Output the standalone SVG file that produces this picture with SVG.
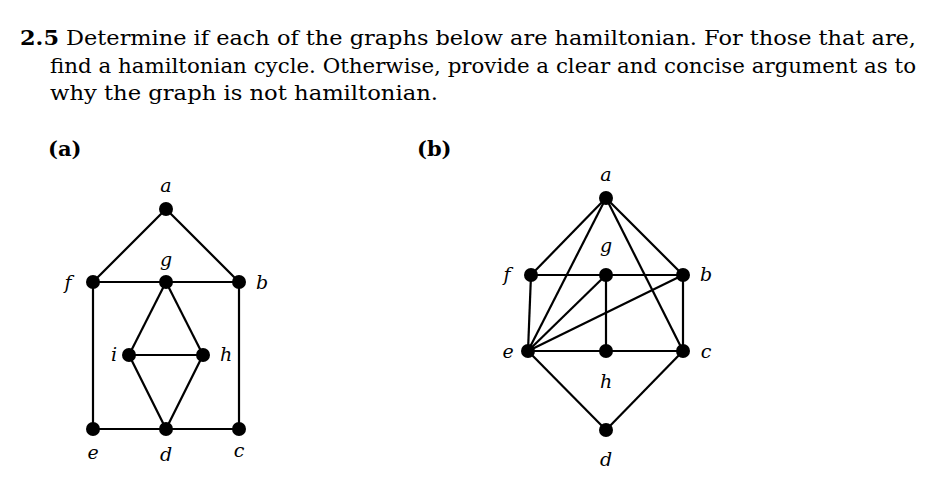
<svg xmlns="http://www.w3.org/2000/svg" width="936" height="492" viewBox="0 0 936 492">
<style>
.t{font-family:"DejaVu Serif",serif;font-size:21px;fill:#000}
.b{font-weight:bold}
.l{font-family:"DejaVu Serif",serif;font-size:19px;font-style:italic;text-anchor:middle;fill:#000}
line{stroke:#000;stroke-width:2.2}
circle{fill:#000}
</style>
<rect width="936" height="492" fill="#fff"/>
<text class="t" x="20" y="45" textLength="896" lengthAdjust="spacingAndGlyphs"><tspan class="b">2.5</tspan> Determine if each of the graphs below are hamiltonian. For those that are,</text>
<text class="t" x="50" y="73" textLength="866" lengthAdjust="spacingAndGlyphs">find a hamiltonian cycle. Otherwise, provide a clear and concise argument as to</text>
<text class="t" x="50" y="100" textLength="388" lengthAdjust="spacingAndGlyphs">why the graph is not hamiltonian.</text>
<text class="t b" x="48" y="156">(a)</text>
<text class="t b" x="417" y="156">(b)</text>
<g id="connectors">
<line x1="166" y1="209" x2="93" y2="282"/><line x1="166" y1="209" x2="239" y2="282"/>
<line x1="93" y1="282" x2="239" y2="282"/><line x1="93" y1="282" x2="93" y2="429"/>
<line x1="239" y1="282" x2="239" y2="429"/><line x1="93" y1="429" x2="239" y2="429"/>
<line x1="166" y1="282" x2="129" y2="355"/><line x1="166" y1="282" x2="203" y2="355"/>
<line x1="129" y1="355" x2="203" y2="355"/><line x1="129" y1="355" x2="166" y2="429"/>
<line x1="203" y1="355" x2="166" y2="429"/>
<line x1="606" y1="198" x2="531" y2="275"/><line x1="606" y1="198" x2="683" y2="275"/>
<line x1="606" y1="198" x2="528" y2="351"/><line x1="606" y1="198" x2="683" y2="351"/>
<line x1="531" y1="275" x2="683" y2="275"/><line x1="531" y1="275" x2="528" y2="351"/>
<line x1="683" y1="275" x2="683" y2="351"/><line x1="528" y1="351" x2="606" y2="275"/>
<line x1="528" y1="351" x2="683" y2="275"/><line x1="606" y1="275" x2="606" y2="351"/>
<line x1="528" y1="351" x2="683" y2="351"/><line x1="528" y1="351" x2="606" y2="430"/>
<line x1="683" y1="351" x2="606" y2="430"/>
</g>
<g id="a-a"><circle cx="166" cy="209" r="7"/><text class="l" x="166" y="192">a</text></g>
<g id="a-f"><circle cx="93" cy="282" r="7"/><text class="l" x="68" y="289">f</text></g>
<g id="a-g"><circle cx="166" cy="282" r="7"/><text class="l" x="166" y="266">g</text></g>
<g id="a-b"><circle cx="239" cy="282" r="7"/><text class="l" x="262" y="289">b</text></g>
<g id="a-i"><circle cx="129" cy="355" r="7"/><text class="l" x="114" y="361">i</text></g>
<g id="a-h"><circle cx="203" cy="355" r="7"/><text class="l" x="226" y="361">h</text></g>
<g id="a-e"><circle cx="93" cy="429" r="7"/><text class="l" x="93" y="459">e</text></g>
<g id="a-d"><circle cx="166" cy="429" r="7"/><text class="l" x="166" y="461">d</text></g>
<g id="a-c"><circle cx="239" cy="429" r="7"/><text class="l" x="239" y="457">c</text></g>
<g id="b-a"><circle cx="606" cy="198" r="7"/><text class="l" x="606" y="181">a</text></g>
<g id="b-f"><circle cx="531" cy="275" r="7"/><text class="l" x="507" y="281">f</text></g>
<g id="b-g"><circle cx="606" cy="275" r="7"/><text class="l" x="606" y="252">g</text></g>
<g id="b-b"><circle cx="683" cy="275" r="7"/><text class="l" x="706" y="281">b</text></g>
<g id="b-e"><circle cx="528" cy="351" r="7"/><text class="l" x="508" y="358">e</text></g>
<g id="b-h"><circle cx="606" cy="351" r="7"/><text class="l" x="606" y="388">h</text></g>
<g id="b-c"><circle cx="683" cy="351" r="7"/><text class="l" x="706" y="358">c</text></g>
<g id="b-d"><circle cx="606" cy="430" r="7"/><text class="l" x="606" y="466">d</text></g>
</svg>
